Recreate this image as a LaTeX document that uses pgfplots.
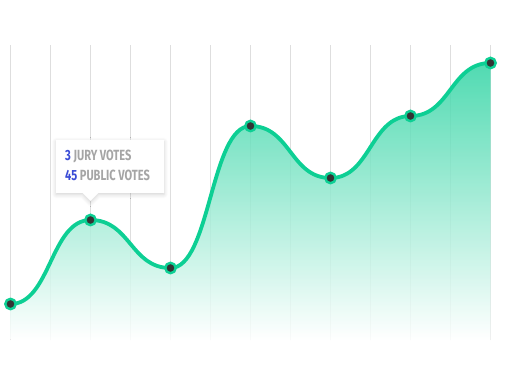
\documentclass[border=0pt]{standalone}
\usepackage{pgfplots}
\pgfplotsset{compat=1.18}
\usepackage{fontspec}
\setmainfont{Fira Sans}
\newfontfamily\tipfont[FakeStretch=0.75]{Fira Sans}
\usetikzlibrary{shadows.blur}
\makeatletter
\newif\ifhc@first
\pgfdeclareplothandler{\pgfplothandlerhcurve}{}{%
  start={\global\hc@firsttrue},
  point={%
    \pgf@process{##1}%
    \edef\hc@cx{\the\pgf@x}\edef\hc@cy{\the\pgf@y}%
    \ifhc@first
      \pgf@plot@first@action{\pgfqpoint{\hc@cx}{\hc@cy}}%
      \global\hc@firstfalse
    \else
      \pgf@xb=\hc@cx\relax
      \advance\pgf@xb by \hc@px\relax
      \divide\pgf@xb by 2\relax
      \edef\hc@mx{\the\pgf@xb}%
      \pgfpathcurveto{\pgfqpoint{\hc@mx}{\hc@py}}{\pgfqpoint{\hc@mx}{\hc@cy}}{\pgfqpoint{\hc@cx}{\hc@cy}}%
    \fi
    \xdef\hc@px{\hc@cx}\xdef\hc@py{\hc@cy}%
  },
}
\tikzset{hcurve/.code={\let\tikz@plot@handler=\pgfplothandlerhcurve}}
\makeatother
\definecolor{linegreen}{RGB}{13,207,148}
\definecolor{topgreen}{RGB}{50,212,164}
\definecolor{dot}{RGB}{52,52,52}
\definecolor{votesblue}{RGB}{58,76,214}
\definecolor{votesgray}{RGB}{165,165,165}
\definecolor{gridgray}{RGB}{222,222,222}
\begin{document}
\begin{tikzpicture}
\path[use as bounding box] (-10.5bp,-32bp) rectangle (496.5bp,340bp);
\begin{axis}[
  at={(0,0)}, anchor=south west,
  scale only axis, width=480bp, height=295bp,
  xmin=0, xmax=12, ymin=0, ymax=295,
  xtick={0,...,12}, xticklabels={}, ytick=\empty,
  xmajorgrids, grid style={gridgray, line width=0.8bp},
  axis line style={draw=none}, tick style={draw=none},
  clip=false,
]
\addplot[draw=none, hcurve, fill opacity=0.85,
  top color=topgreen, bottom color=white]
  coordinates {(0,36) (2,120) (4,72) (6,214) (8,162) (10,224) (12,277)} \closedcycle;
\addplot[linegreen, line width=3.8bp, hcurve,
  mark=*, mark size=5.2bp, mark options={fill=dot, draw=linegreen, line width=2.4bp}]
  coordinates {(0,36) (2,120) (4,72) (6,214) (8,162) (10,224) (12,277)};
\fill[white, blur shadow={shadow blur steps=6, shadow xshift=0bp, shadow yshift=-1.5bp, shadow blur radius=4bp, shadow opacity=18}]
  (axis cs:1.1375,200) -- (axis cs:3.8375,200) -- (axis cs:3.8375,147)
  -- (axis cs:2.2,147) -- (axis cs:2,139) -- (axis cs:1.8,147)
  -- (axis cs:1.1375,147) -- cycle;
\node[anchor=base west, inner sep=0pt, font=\tipfont\bfseries\fontsize{14.8}{14.8}\selectfont]
  at (axis cs:1.3625,179) {\textcolor{votesblue}{3} \textcolor{votesgray}{JURY VOTES}};
\node[anchor=base west, inner sep=0pt, font=\tipfont\bfseries\fontsize{14.8}{14.8}\selectfont]
  at (axis cs:1.3625,159) {\textcolor{votesblue}{45} \textcolor{votesgray}{PUBLIC VOTES}};
\end{axis}
\end{tikzpicture}
\end{document}
